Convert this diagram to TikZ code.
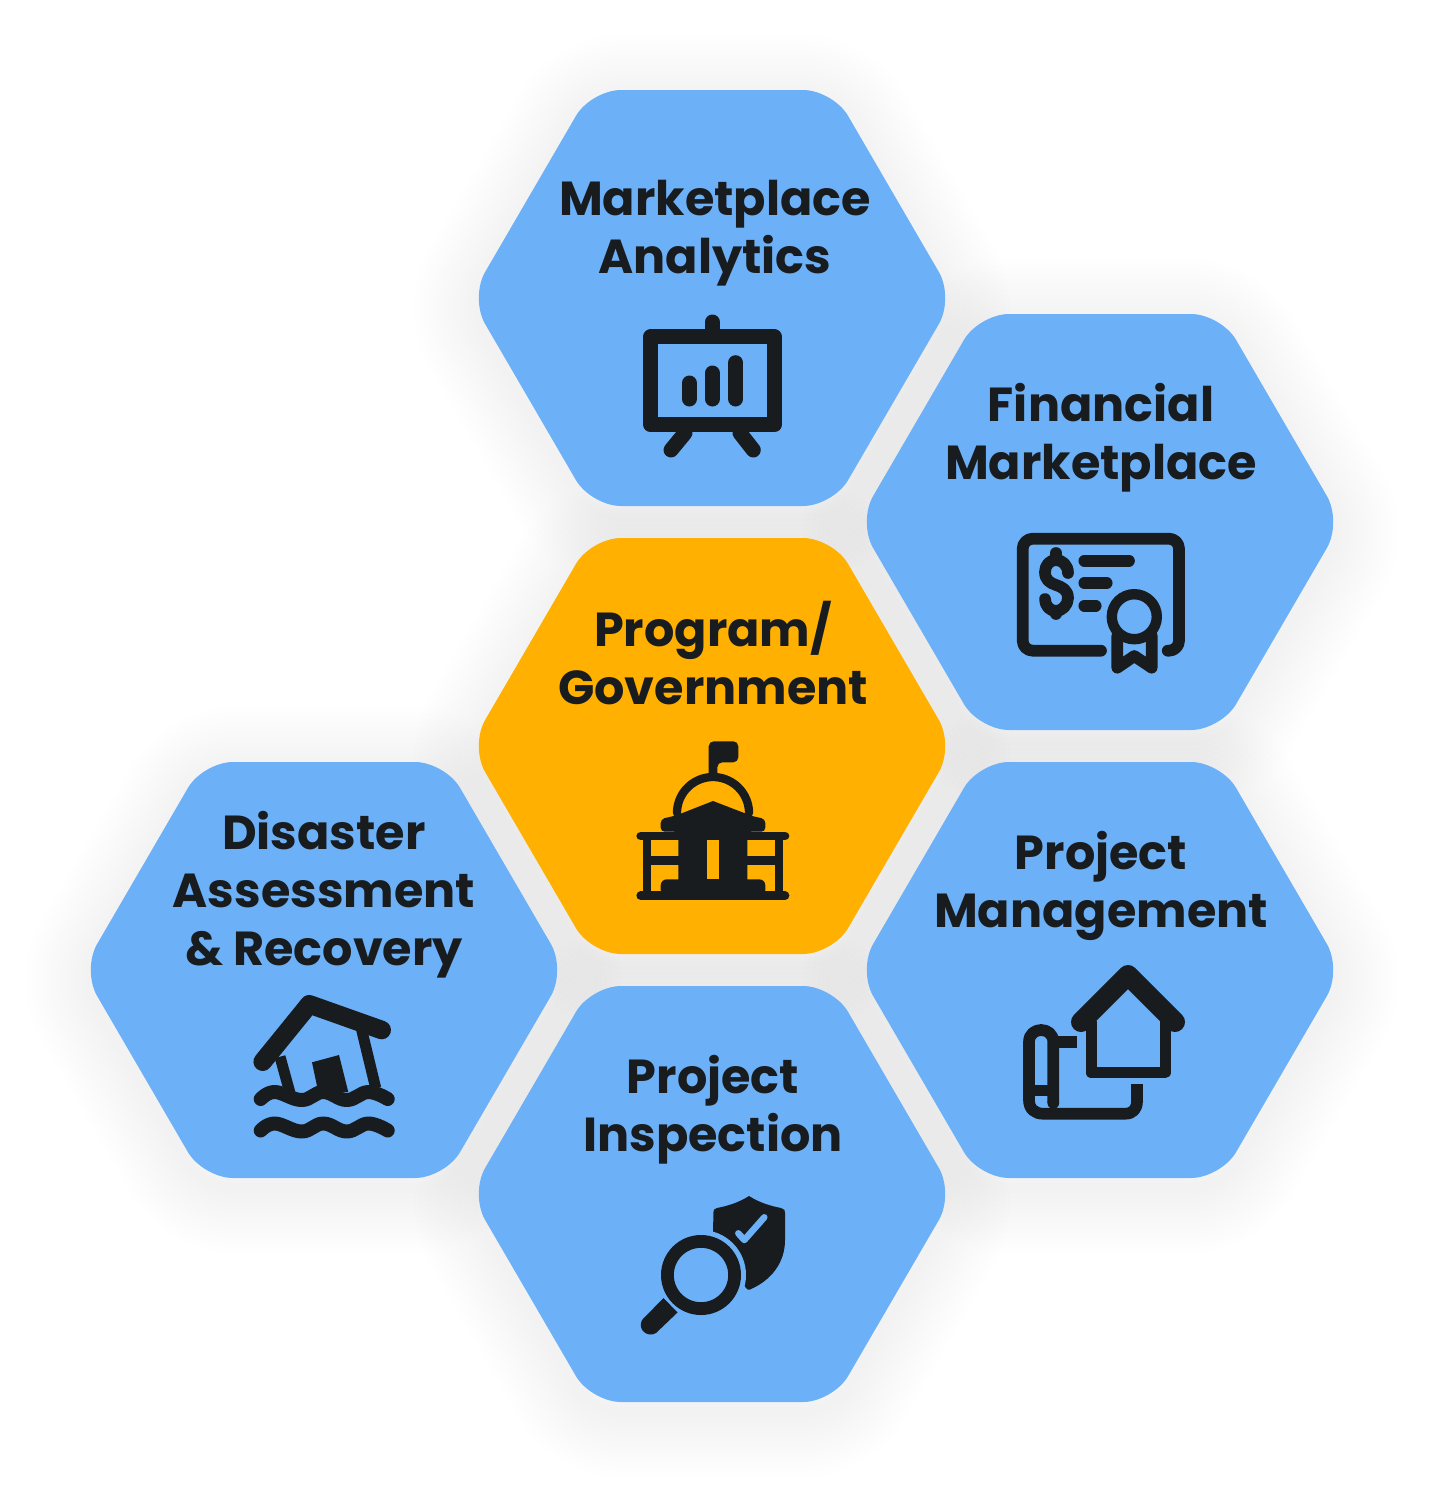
\documentclass[tikz,border=0pt]{standalone}
\usepackage{fontspec}
\setmainfont{Poppins}
\definecolor{hexblue}{HTML}{6CB0F7}
\definecolor{hexorange}{HTML}{FFB000}
\definecolor{icondark}{HTML}{181C1F}
\tikzset{
  hexlabel/.style={font=\bfseries\fontsize{47.7}{58}\selectfont, align=center, text=icondark},
  iconline/.style={draw=icondark, line width=#1, line cap=round, line join=round},
  iconfill/.style={fill=icondark}
}
\newcommand{\hexpath}{(-242,0) -- (-121,-208) -- (121,-208) -- (242,0) -- (121,208) -- (-121,208) -- cycle}

\begin{document}
\begin{tikzpicture}[x=1pt,y=-1pt]
  \useasboundingbox (0,0) rectangle (1443,1512);

  % soft shadows
  \foreach \cx/\cy in {712/298,1100/522,712/746,324/970,1100/970,712/1194}{
    \foreach \w in {10,20,...,130}{
      \draw[shift={(\cx,\cy+10)}, rounded corners=30, black, opacity=0.004, line width=\w, line join=round] \hexpath;
    }
  }

  % hexagons
  \foreach \cx/\cy in {712/298,1100/522,324/970,1100/970,712/1194}{
    \fill[shift={(\cx,\cy)}, rounded corners=30, hexblue] \hexpath;
  }
  \fill[shift={(712,746)}, rounded corners=30, hexorange] \hexpath;

  % labels
  \node[hexlabel] (analytics) at (715,233) {Marketplace\\Analytics};
  \node[hexlabel] (financial) at (1101,438) {Financial\\Marketplace};
  \node[hexlabel] (program) at (713,653) {Program/\\Government};
  \node[hexlabel] (disaster) at (324,895) {Disaster\\Assessment\\\& Recovery};
  \node[hexlabel] (management) at (1101,886) {Project\\Management};
  \node[hexlabel] (inspection) at (713,1110) {Project\\Inspection};

  % presentation board
  \draw[iconline=15] (650.8,336.8) rectangle (774.2,424.8);
  \draw[iconline=15] (712.3,322) -- (712.3,336);
  \draw[iconline=15] (689.3,383) -- (689.3,399);
  \draw[iconline=15] (712.3,373) -- (712.3,399);
  \draw[iconline=15] (735.7,362.7) -- (735.7,399);
  \draw[iconline=15] (685,433) -- (671,450);
  \draw[iconline=15] (740,433) -- (753.3,450);

  % certificate
  \draw[iconline=11.7, rounded corners=10] (1101,650.7) -- (1022.7,650.7) -- (1022.7,538.7) -- (1179,538.7) -- (1179,650.7) -- (1167.7,650.7);
  \draw[iconline=11.7] (1084.3,560.7) -- (1129,560.7);
  \draw[iconline=11.7] (1084.3,583) -- (1106.7,583);
  \draw[iconline=11.7] (1084.3,605.7) -- (1095.7,605.7);
  \draw[iconline=11.7] (1068,573) .. controls (1068,565) and (1062,560) .. (1056,560) .. controls (1050,560) and (1045,565) .. (1045,572) .. controls (1045,580) and (1050,583) .. (1056,585) .. controls (1062,587) and (1068,590) .. (1068,598) .. controls (1068,605) and (1062,611) .. (1056,611) .. controls (1050,611) and (1045,606) .. (1045,599);
  \draw[iconline=11.7] (1056,553) -- (1056,560);
  \draw[iconline=11.7] (1056,611) -- (1056,614);
  \draw[iconline=10.4] (1134.3,616.7) circle[radius=22.5];
  \draw[iconline=11.7] (1117.3,636) -- (1117.3,667.7) -- (1134.3,656) -- (1151.7,667.7) -- (1151.7,636);

  % capitol
  \fill[iconfill, rounded corners=5] (708.7,773) -- (708.7,741.3) -- (738.3,741.3) -- (738.3,762.3) -- (717.3,762.3) [sharp corners] -- (717.3,773) -- cycle;
  \draw[iconline=8.3] plot[domain=180:360, samples=40] ({713+36*cos(\x)},{813+36*sin(\x)});
  \fill[iconfill, rounded corners=4] (678.3,890) -- (678.3,831.7) -- (660.7,831.7) -- (660.7,819) -- (674,816) [sharp corners] -- (681.7,813.3) -- (713,801) -- (745,813.3) -- (752,816) [rounded corners=4] -- (765.3,819) -- (765.3,831.7) -- (747.3,831.7) -- (747.3,890) -- cycle;
  \draw[iconline=8.7] (640.7,836) -- (785,836);
  \draw[iconline=8.7] (640.7,895.7) -- (785,895.7);
  \draw[icondark, line width=8.3] (646.7,836) -- (646.7,896);
  \draw[icondark, line width=8.3] (779,836) -- (779,896);
  \draw[icondark, line width=9] (646.7,860) -- (679,860);
  \draw[icondark, line width=9] (746,860) -- (779,860);
  \fill[iconfill, rounded corners=6] (660.7,896) -- (660.7,879.3) -- (765.3,879.3) -- (765.3,896) -- cycle;
  \fill[hexorange] (707.3,840) rectangle (718.7,879.3);

  % house plan
  \draw[iconline=20] (1081,1022) -- (1128,975) -- (1175,1022);
  \draw[iconline=11] (1091,1022) -- (1091,1072.7) -- (1165,1072.7) -- (1165,1022);
  \draw[icondark, line width=11.7, line join=round] (1053.3,1103) -- (1053.3,1042) .. controls (1053.3,1026) and (1029,1026) .. (1029,1042) -- (1029,1100) .. controls (1029,1109) and (1035,1113.7) .. (1043,1113.7) -- (1125,1113.7) .. controls (1133,1113.7) and (1137,1109) .. (1137,1101) -- (1137,1084);
  \fill[iconfill] (1053.3,1103) circle[radius=5.85];
  \draw[icondark, line width=11] (1029,1090) -- (1053,1090);
  \draw[icondark, line width=12] (1053,1041.7) -- (1077,1041.7);

  % shield and magnifier
  \fill[iconfill] (749,1196) .. controls (738,1203) and (727,1206) .. (717,1208) .. controls (714,1209) .. (713.3,1213) -- (713,1260) -- (744,1285) -- (746,1288) .. controls (748,1290) .. (750,1289.5) .. controls (772,1280) and (785,1262) .. (785,1240) -- (785,1213) .. controls (785,1210) .. (781,1208) .. controls (771,1206) and (760,1203) .. (749,1196) -- cycle;
  \fill[hexblue] (701,1275) circle[radius=45];
  \draw[iconline=12.8] (701,1275) circle[radius=33.6];
  \draw[hexblue, line width=6.5, line cap=round, line join=round] (738.3,1233.3) -- (744.3,1240) -- (764.3,1217.3);
  \fill[iconfill] (663.5,1298) -- (677.5,1312.5) -- (656,1333) .. controls (648,1338) and (637,1330) .. (642,1320) -- cycle;

  % flooded house
  \draw[iconline=18.6] (262.7,1061.7) -- (309.3,1004.3) -- (381.7,1030);
  \draw[icondark, line width=11] (280,1056.7) -- (290,1093);
  \draw[icondark, line width=11] (361.7,1030) -- (375.7,1088);
  \fill[iconfill] (312,1062.3) -- (339,1055) -- (348.3,1092) -- (318.3,1092) -- cycle;
  \draw[iconline=14] plot[smooth, tension=0.7] coordinates {(260.7,1099) (275,1092) (301.7,1100) (323.3,1092) (346.7,1100) (368.3,1092) (387.7,1099)};
  \draw[iconline=14] plot[smooth, tension=0.7] coordinates {(260.7,1130.5) (275,1123.5) (301.7,1131.5) (323.3,1123.5) (346.7,1131.5) (368.3,1123.5) (387.7,1130.5)};
\end{tikzpicture}
\end{document}
